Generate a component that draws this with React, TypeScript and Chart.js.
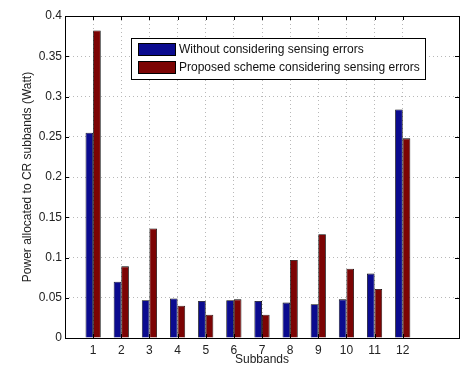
import React, { useEffect, useRef } from "react";
import { Chart, registerables } from "chart.js";

Chart.register(...registerables);

const subbands = [1, 2, 3, 4, 5, 6, 7, 8, 9, 10, 11, 12];
const withoutErrors = [0.255, 0.070, 0.047, 0.049, 0.046, 0.047, 0.046, 0.044, 0.042, 0.048, 0.080, 0.284];
const proposedScheme = [0.382, 0.089, 0.136, 0.040, 0.029, 0.048, 0.029, 0.097, 0.129, 0.086, 0.061, 0.248];
const seriesLabels = [
  "Without considering sensing errors",
  "Proposed scheme considering sensing errors",
];
const yTicks = [0, 0.05, 0.1, 0.15, 0.2, 0.25, 0.3, 0.35, 0.4];

const FONT = "'Liberation Sans', Arial, sans-serif";
const BLUE = "#0b0b8f";
const RED = "#7c0404";

const framePlugin = {
  id: "frame",
  afterDatasetsDraw(chart: any) {
    const { ctx, chartArea: a, scales } = chart;
    const xs = scales.x;
    const ys = scales.y;
    ctx.save();
    ctx.strokeStyle = "#000";
    ctx.lineWidth = 1;
    ctx.strokeRect(Math.round(a.left) + 0.5, Math.round(a.top) + 0.5, Math.round(a.right - a.left), Math.round(a.bottom - a.top));
    const tl = 4;
    ctx.beginPath();
    subbands.forEach((s) => {
      const x = Math.round(xs.getPixelForValue(s)) + 0.5;
      ctx.moveTo(x, a.bottom);
      ctx.lineTo(x, a.bottom - tl);
      ctx.moveTo(x, a.top);
      ctx.lineTo(x, a.top + tl);
    });
    yTicks.forEach((v) => {
      const y = Math.round(ys.getPixelForValue(v)) + 0.5;
      ctx.moveTo(a.left, y);
      ctx.lineTo(a.left + tl, y);
      ctx.moveTo(a.right, y);
      ctx.lineTo(a.right - tl, y);
    });
    ctx.stroke();

    // legend
    const lx = 131, ly = 38, lw = 294, lh = 41;
    ctx.fillStyle = "#fff";
    ctx.fillRect(lx, ly, lw, lh);
    ctx.strokeStyle = "#000";
    ctx.strokeRect(lx + 0.5, ly + 0.5, lw, lh);
    chart.data.datasets.forEach((ds: any, i: number) => {
      const sy = 43 + i * 18;
      ctx.fillStyle = ds.backgroundColor;
      ctx.fillRect(138, sy, 37, 12);
      ctx.strokeStyle = "#000";
      ctx.strokeRect(138.5, sy + 0.5, 37, 12);
      ctx.fillStyle = "#111";
      ctx.font = `12px ${FONT}`;
      ctx.textBaseline = "middle";
      ctx.textAlign = "left";
      ctx.fillText(ds.label, 179, sy + 6.5);
    });
    ctx.restore();
  },
};

export default function App() {
  const ref = useRef<HTMLCanvasElement | null>(null);
  useEffect(() => {
    if (!ref.current) return;
    const chart = new Chart(ref.current, {
      type: "bar",
      data: {
        datasets: [
          {
            label: seriesLabels[0],
            data: subbands.map((s, i) => ({ x: s, y: withoutErrors[i] })),
            backgroundColor: BLUE,
            borderColor: "#000",
            borderWidth: 0.8,
          },
          {
            label: seriesLabels[1],
            data: subbands.map((s, i) => ({ x: s, y: proposedScheme[i] })),
            backgroundColor: RED,
            borderColor: "#000",
            borderWidth: 0.8,
          },
        ],
      },
      plugins: [framePlugin],
      options: {
        animation: false,
        responsive: false,
        maintainAspectRatio: false,
        layout: { padding: { left: 0, top: 16, right: 15, bottom: 0 } },
        categoryPercentage: 0.54,
        barPercentage: 1,
        plugins: { legend: { display: false }, tooltip: { enabled: false } },
        scales: {
          x: {
            type: "linear",
            min: 0,
            max: 14,
            offset: false,
            afterFit: (s: any) => { s.height = 34; },
            afterBuildTicks: (s: any) => { s.ticks = subbands.map((v) => ({ value: v })); },
            ticks: {
              autoSkip: false,
              padding: 5,
              color: "#222",
              font: { family: FONT, size: 12 },
              callback: (v: any) => String(v),
            },
            grid: { offset: false, color: "#b8b8b8", lineWidth: 1, drawTicks: false },
            border: { display: false, dash: [1, 3] },
            title: {
              display: true,
              text: "Subbands",
              color: "#222",
              font: { family: FONT, size: 12 },
              padding: { top: 0, bottom: 5 },
            },
          },
          y: {
            min: 0,
            max: 0.4,
            afterFit: (s: any) => { s.width = 65; },
            afterBuildTicks: (s: any) => { s.ticks = yTicks.map((v) => ({ value: v })); },
            ticks: {
              padding: 3,
              color: "#222",
              font: { family: FONT, size: 12 },
              callback: (v: any) => String(Math.round(v * 100) / 100),
            },
            grid: { color: "#b8b8b8", lineWidth: 1, drawTicks: false },
            border: { display: false, dash: [1, 3] },
            title: {
              display: true,
              text: "Power allocated to CR subbands (Watt)",
              color: "#222",
              font: { family: FONT, size: 12 },
              padding: { top: 20, bottom: 0 },
            },
          },
        },
      },
    } as any);
    return () => chart.destroy();
  }, []);
  return (
    <div style={{ position: "fixed", left: 0, top: 0, width: 474, height: 372, background: "#fff" }}>
      <canvas ref={ref} width={474} height={372} style={{ width: 474, height: 372 }} />
    </div>
  );
}
